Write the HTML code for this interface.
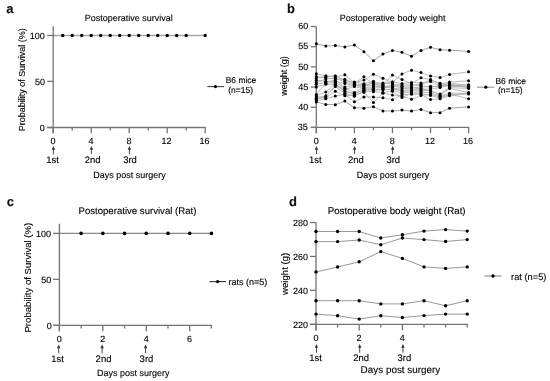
<!DOCTYPE html>
<html><head><meta charset="utf-8"><style>
html,body{margin:0;padding:0;background:#fff;}
body{width:550px;height:381px;overflow:hidden;}
svg{display:block;font-family:"Liberation Sans", sans-serif;filter:blur(0.35px);}
text{stroke:#000;stroke-width:0.12px;}
</style></head><body>
<svg width="550" height="381" viewBox="0 0 550 381">
<rect width="550" height="381" fill="#fff"/>
<line x1="53.20" y1="35.50" x2="205.20" y2="35.50" stroke="#a8a8a8" stroke-width="1.5"/>
<line x1="53.20" y1="26.30" x2="53.20" y2="133.20" stroke="#747474" stroke-width="1.3"/>
<line x1="47.20" y1="127.50" x2="205.80" y2="127.50" stroke="#747474" stroke-width="1.3"/>
<line x1="47.20" y1="35.50" x2="53.20" y2="35.50" stroke="#747474" stroke-width="1.3"/>
<line x1="47.20" y1="81.40" x2="53.20" y2="81.40" stroke="#747474" stroke-width="1.3"/>
<line x1="47.20" y1="127.50" x2="53.20" y2="127.50" stroke="#747474" stroke-width="1.3"/>
<line x1="53.20" y1="127.50" x2="53.20" y2="133.20" stroke="#747474" stroke-width="1.3"/>
<line x1="72.20" y1="127.50" x2="72.20" y2="130.50" stroke="#747474" stroke-width="1.3"/>
<line x1="91.20" y1="127.50" x2="91.20" y2="133.20" stroke="#747474" stroke-width="1.3"/>
<line x1="110.20" y1="127.50" x2="110.20" y2="130.50" stroke="#747474" stroke-width="1.3"/>
<line x1="129.20" y1="127.50" x2="129.20" y2="133.20" stroke="#747474" stroke-width="1.3"/>
<line x1="148.20" y1="127.50" x2="148.20" y2="130.50" stroke="#747474" stroke-width="1.3"/>
<line x1="167.20" y1="127.50" x2="167.20" y2="133.20" stroke="#747474" stroke-width="1.3"/>
<line x1="186.20" y1="127.50" x2="186.20" y2="130.50" stroke="#747474" stroke-width="1.3"/>
<line x1="205.20" y1="127.50" x2="205.20" y2="133.20" stroke="#747474" stroke-width="1.3"/>
<line x1="53.40" y1="147.50" x2="53.40" y2="154.20" stroke="#333" stroke-width="0.9"/>
<path d="M51.70,149.70 L53.40,146.00 L55.10,149.70 Z" fill="#333"/>
<line x1="91.40" y1="147.50" x2="91.40" y2="154.20" stroke="#333" stroke-width="0.9"/>
<path d="M89.70,149.70 L91.40,146.00 L93.10,149.70 Z" fill="#333"/>
<line x1="129.40" y1="147.50" x2="129.40" y2="154.20" stroke="#333" stroke-width="0.9"/>
<path d="M127.70,149.70 L129.40,146.00 L131.10,149.70 Z" fill="#333"/>
<circle cx="62.70" cy="35.50" r="1.7" fill="#000"/>
<circle cx="72.20" cy="35.50" r="1.7" fill="#000"/>
<circle cx="81.70" cy="35.50" r="1.7" fill="#000"/>
<circle cx="91.20" cy="35.50" r="1.7" fill="#000"/>
<circle cx="100.70" cy="35.50" r="1.7" fill="#000"/>
<circle cx="110.20" cy="35.50" r="1.7" fill="#000"/>
<circle cx="119.70" cy="35.50" r="1.7" fill="#000"/>
<circle cx="129.20" cy="35.50" r="1.7" fill="#000"/>
<circle cx="138.70" cy="35.50" r="1.7" fill="#000"/>
<circle cx="148.20" cy="35.50" r="1.7" fill="#000"/>
<circle cx="157.70" cy="35.50" r="1.7" fill="#000"/>
<circle cx="167.20" cy="35.50" r="1.7" fill="#000"/>
<circle cx="176.70" cy="35.50" r="1.7" fill="#000"/>
<circle cx="186.20" cy="35.50" r="1.7" fill="#000"/>
<circle cx="205.20" cy="35.50" r="1.7" fill="#000"/>
<line x1="207.30" y1="86.60" x2="224.10" y2="86.60" stroke="#444" stroke-width="1.1"/>
<circle cx="215.50" cy="86.60" r="1.6" fill="#000"/>
<line x1="316.30" y1="26.50" x2="316.30" y2="133.20" stroke="#747474" stroke-width="1.3"/>
<line x1="310.80" y1="127.40" x2="469.22" y2="127.40" stroke="#747474" stroke-width="1.3"/>
<line x1="310.80" y1="26.50" x2="316.30" y2="26.50" stroke="#747474" stroke-width="1.3"/>
<line x1="310.80" y1="46.68" x2="316.30" y2="46.68" stroke="#747474" stroke-width="1.3"/>
<line x1="310.80" y1="66.86" x2="316.30" y2="66.86" stroke="#747474" stroke-width="1.3"/>
<line x1="310.80" y1="87.04" x2="316.30" y2="87.04" stroke="#747474" stroke-width="1.3"/>
<line x1="310.80" y1="107.22" x2="316.30" y2="107.22" stroke="#747474" stroke-width="1.3"/>
<line x1="310.80" y1="127.40" x2="316.30" y2="127.40" stroke="#747474" stroke-width="1.3"/>
<line x1="316.30" y1="127.40" x2="316.30" y2="133.20" stroke="#747474" stroke-width="1.3"/>
<line x1="335.34" y1="127.40" x2="335.34" y2="130.30" stroke="#747474" stroke-width="1.3"/>
<line x1="354.38" y1="127.40" x2="354.38" y2="133.20" stroke="#747474" stroke-width="1.3"/>
<line x1="373.42" y1="127.40" x2="373.42" y2="130.30" stroke="#747474" stroke-width="1.3"/>
<line x1="392.46" y1="127.40" x2="392.46" y2="133.20" stroke="#747474" stroke-width="1.3"/>
<line x1="411.50" y1="127.40" x2="411.50" y2="130.30" stroke="#747474" stroke-width="1.3"/>
<line x1="430.54" y1="127.40" x2="430.54" y2="133.20" stroke="#747474" stroke-width="1.3"/>
<line x1="449.58" y1="127.40" x2="449.58" y2="130.30" stroke="#747474" stroke-width="1.3"/>
<line x1="468.62" y1="127.40" x2="468.62" y2="133.20" stroke="#747474" stroke-width="1.3"/>
<line x1="316.50" y1="147.50" x2="316.50" y2="154.00" stroke="#333" stroke-width="0.9"/>
<path d="M314.80,149.70 L316.50,146.00 L318.20,149.70 Z" fill="#333"/>
<line x1="354.58" y1="147.50" x2="354.58" y2="154.00" stroke="#333" stroke-width="0.9"/>
<path d="M352.88,149.70 L354.58,146.00 L356.28,149.70 Z" fill="#333"/>
<line x1="392.66" y1="147.50" x2="392.66" y2="154.00" stroke="#333" stroke-width="0.9"/>
<path d="M390.96,149.70 L392.66,146.00 L394.36,149.70 Z" fill="#333"/>
<line x1="477.10" y1="87.20" x2="494.50" y2="87.20" stroke="#888" stroke-width="1.0"/>
<circle cx="485.80" cy="87.20" r="1.6" fill="#000"/>
<polyline points="316.30,43.70 325.82,46.00 335.34,45.60 344.86,46.90 354.38,45.00 363.90,51.70 373.42,60.70 382.94,54.10 392.46,50.50 401.98,52.30 411.50,56.30 421.02,50.50 430.54,47.30 440.06,49.70 449.58,50.20 468.62,51.40" fill="none" stroke="#999" stroke-width="0.9" stroke-linejoin="round"/>
<polyline points="316.30,73.80 325.82,75.80 335.34,76.88 344.86,74.80 354.38,82.73 363.90,80.10 373.42,74.20 382.94,78.20 392.46,82.84 401.98,73.90 411.50,70.20 421.02,72.60 430.54,76.10 440.06,77.60 449.58,74.40 468.62,71.80" fill="none" stroke="#aaa" stroke-width="0.8" stroke-linejoin="round"/>
<polyline points="316.30,78.30 325.82,76.80 335.34,75.80 344.86,80.63 354.38,82.00 363.90,83.70 373.42,81.20 382.94,84.75 392.46,75.10 401.98,79.60 411.50,83.59 421.02,77.80 430.54,79.50 440.06,84.08 449.58,82.10 468.62,80.70" fill="none" stroke="#aaa" stroke-width="0.8" stroke-linejoin="round"/>
<polyline points="316.30,76.50 325.82,77.80 335.34,79.04 344.86,79.20 354.38,83.47 363.90,76.70 373.42,84.70 382.94,83.88 392.46,81.80 401.98,83.60 411.50,82.40 421.02,83.10 430.54,80.45 440.06,83.20 449.58,85.76 468.62,84.70" fill="none" stroke="#aaa" stroke-width="0.8" stroke-linejoin="round"/>
<polyline points="316.30,82.60 325.82,79.00 335.34,77.96 344.86,82.07 354.38,84.20 363.90,84.64 373.42,83.53 382.94,83.00 392.46,83.89 401.98,84.98 411.50,84.78 421.02,84.35 430.54,81.40 440.06,85.84 449.58,83.01 468.62,85.46" fill="none" stroke="#aaa" stroke-width="0.8" stroke-linejoin="round"/>
<polyline points="316.30,80.20 325.82,81.30 335.34,81.20 344.86,83.50 354.38,85.67 363.90,86.53 373.42,82.37 382.94,88.25 392.46,84.93 401.98,86.36 411.50,85.97 421.02,85.60 430.54,87.63 440.06,84.96 449.58,86.67 468.62,86.22" fill="none" stroke="#aaa" stroke-width="0.8" stroke-linejoin="round"/>
<polyline points="316.30,84.30 325.82,82.40 335.34,80.12 344.86,87.00 354.38,84.93 363.90,85.59 373.42,85.87 382.94,86.50 392.46,85.98 401.98,87.74 411.50,88.35 421.02,86.85 430.54,86.30 440.06,86.72 449.58,83.93 468.62,86.98" fill="none" stroke="#aaa" stroke-width="0.8" stroke-linejoin="round"/>
<polyline points="316.30,94.40 325.82,83.30 335.34,82.28 344.86,88.24 354.38,92.40 363.90,87.48 373.42,87.03 382.94,85.62 392.46,88.07 401.98,89.12 411.50,87.16 421.02,89.35 430.54,88.96 440.06,87.60 449.58,84.84 468.62,87.74" fill="none" stroke="#aaa" stroke-width="0.8" stroke-linejoin="round"/>
<polyline points="316.30,86.90 325.82,84.20 335.34,84.44 344.86,89.49 354.38,86.40 363.90,88.42 373.42,88.20 382.94,87.38 392.46,87.02 401.98,91.88 411.50,90.73 421.02,88.10 430.54,91.61 440.06,94.00 449.58,87.59 468.62,88.50" fill="none" stroke="#aaa" stroke-width="0.8" stroke-linejoin="round"/>
<polyline points="316.30,95.65 325.82,92.10 335.34,83.36 344.86,91.97 354.38,93.35 363.90,90.31 373.42,89.37 382.94,90.00 392.46,89.11 401.98,90.50 411.50,89.54 421.02,90.60 430.54,90.29 440.06,94.94 449.58,88.50 468.62,92.50" fill="none" stroke="#aaa" stroke-width="0.8" stroke-linejoin="round"/>
<polyline points="316.30,96.90 325.82,96.80 335.34,85.52 344.86,90.73 354.38,94.30 363.90,89.37 373.42,90.53 382.94,89.12 392.46,90.16 401.98,93.26 411.50,91.92 421.02,91.85 430.54,92.94 440.06,95.88 449.58,93.20 468.62,93.43" fill="none" stroke="#aaa" stroke-width="0.8" stroke-linejoin="round"/>
<polyline points="316.30,99.40 325.82,95.80 335.34,86.60 344.86,93.21 354.38,96.20 363.90,91.26 373.42,91.70 382.94,92.40 392.46,91.20 401.98,97.40 411.50,93.11 421.02,93.10 430.54,95.60 440.06,97.76 449.58,94.93 468.62,92.97" fill="none" stroke="#aaa" stroke-width="0.8" stroke-linejoin="round"/>
<polyline points="316.30,98.15 325.82,97.80 335.34,91.30 344.86,95.70 354.38,95.25 363.90,92.20 373.42,102.50 382.94,93.20 392.46,95.00 401.98,96.02 411.50,99.30 421.02,95.60 430.54,94.27 440.06,96.82 449.58,94.07 468.62,98.80" fill="none" stroke="#aaa" stroke-width="0.8" stroke-linejoin="round"/>
<polyline points="316.30,100.65 325.82,98.80 335.34,96.10 344.86,94.46 354.38,101.80 363.90,96.90 373.42,96.90 382.94,97.80 392.46,99.80 401.98,94.64 411.50,94.30 421.02,94.35 430.54,99.40 440.06,98.70 449.58,95.80 468.62,93.90" fill="none" stroke="#aaa" stroke-width="0.8" stroke-linejoin="round"/>
<polyline points="316.30,101.90 325.82,104.40 335.34,104.70 344.86,101.10 354.38,107.70 363.90,108.20 373.42,106.70 382.94,111.00 392.46,111.10 401.98,110.10 411.50,111.10 421.02,109.40 430.54,112.70 440.06,112.70 449.58,108.20 468.62,106.90" fill="none" stroke="#999" stroke-width="0.9" stroke-linejoin="round"/>
<circle cx="316.30" cy="43.70" r="1.5" fill="#000"/>
<circle cx="325.82" cy="46.00" r="1.5" fill="#000"/>
<circle cx="335.34" cy="45.60" r="1.5" fill="#000"/>
<circle cx="344.86" cy="46.90" r="1.5" fill="#000"/>
<circle cx="354.38" cy="45.00" r="1.5" fill="#000"/>
<circle cx="363.90" cy="51.70" r="1.5" fill="#000"/>
<circle cx="373.42" cy="60.70" r="1.5" fill="#000"/>
<circle cx="382.94" cy="54.10" r="1.5" fill="#000"/>
<circle cx="392.46" cy="50.50" r="1.5" fill="#000"/>
<circle cx="401.98" cy="52.30" r="1.5" fill="#000"/>
<circle cx="411.50" cy="56.30" r="1.5" fill="#000"/>
<circle cx="421.02" cy="50.50" r="1.5" fill="#000"/>
<circle cx="430.54" cy="47.30" r="1.5" fill="#000"/>
<circle cx="440.06" cy="49.70" r="1.5" fill="#000"/>
<circle cx="449.58" cy="50.20" r="1.5" fill="#000"/>
<circle cx="468.62" cy="51.40" r="1.5" fill="#000"/>
<circle cx="316.30" cy="73.80" r="1.5" fill="#000"/>
<circle cx="325.82" cy="75.80" r="1.5" fill="#000"/>
<circle cx="335.34" cy="76.88" r="1.5" fill="#000"/>
<circle cx="344.86" cy="74.80" r="1.5" fill="#000"/>
<circle cx="354.38" cy="82.73" r="1.5" fill="#000"/>
<circle cx="363.90" cy="80.10" r="1.5" fill="#000"/>
<circle cx="373.42" cy="74.20" r="1.5" fill="#000"/>
<circle cx="382.94" cy="78.20" r="1.5" fill="#000"/>
<circle cx="392.46" cy="82.84" r="1.5" fill="#000"/>
<circle cx="401.98" cy="73.90" r="1.5" fill="#000"/>
<circle cx="411.50" cy="70.20" r="1.5" fill="#000"/>
<circle cx="421.02" cy="72.60" r="1.5" fill="#000"/>
<circle cx="430.54" cy="76.10" r="1.5" fill="#000"/>
<circle cx="440.06" cy="77.60" r="1.5" fill="#000"/>
<circle cx="449.58" cy="74.40" r="1.5" fill="#000"/>
<circle cx="468.62" cy="71.80" r="1.5" fill="#000"/>
<circle cx="316.30" cy="78.30" r="1.5" fill="#000"/>
<circle cx="325.82" cy="76.80" r="1.5" fill="#000"/>
<circle cx="335.34" cy="75.80" r="1.5" fill="#000"/>
<circle cx="344.86" cy="80.63" r="1.5" fill="#000"/>
<circle cx="354.38" cy="82.00" r="1.5" fill="#000"/>
<circle cx="363.90" cy="83.70" r="1.5" fill="#000"/>
<circle cx="373.42" cy="81.20" r="1.5" fill="#000"/>
<circle cx="382.94" cy="84.75" r="1.5" fill="#000"/>
<circle cx="392.46" cy="75.10" r="1.5" fill="#000"/>
<circle cx="401.98" cy="79.60" r="1.5" fill="#000"/>
<circle cx="411.50" cy="83.59" r="1.5" fill="#000"/>
<circle cx="421.02" cy="77.80" r="1.5" fill="#000"/>
<circle cx="430.54" cy="79.50" r="1.5" fill="#000"/>
<circle cx="440.06" cy="84.08" r="1.5" fill="#000"/>
<circle cx="449.58" cy="82.10" r="1.5" fill="#000"/>
<circle cx="468.62" cy="80.70" r="1.5" fill="#000"/>
<circle cx="316.30" cy="76.50" r="1.5" fill="#000"/>
<circle cx="325.82" cy="77.80" r="1.5" fill="#000"/>
<circle cx="335.34" cy="79.04" r="1.5" fill="#000"/>
<circle cx="344.86" cy="79.20" r="1.5" fill="#000"/>
<circle cx="354.38" cy="83.47" r="1.5" fill="#000"/>
<circle cx="363.90" cy="76.70" r="1.5" fill="#000"/>
<circle cx="373.42" cy="84.70" r="1.5" fill="#000"/>
<circle cx="382.94" cy="83.88" r="1.5" fill="#000"/>
<circle cx="392.46" cy="81.80" r="1.5" fill="#000"/>
<circle cx="401.98" cy="83.60" r="1.5" fill="#000"/>
<circle cx="411.50" cy="82.40" r="1.5" fill="#000"/>
<circle cx="421.02" cy="83.10" r="1.5" fill="#000"/>
<circle cx="430.54" cy="80.45" r="1.5" fill="#000"/>
<circle cx="440.06" cy="83.20" r="1.5" fill="#000"/>
<circle cx="449.58" cy="85.76" r="1.5" fill="#000"/>
<circle cx="468.62" cy="84.70" r="1.5" fill="#000"/>
<circle cx="316.30" cy="82.60" r="1.5" fill="#000"/>
<circle cx="325.82" cy="79.00" r="1.5" fill="#000"/>
<circle cx="335.34" cy="77.96" r="1.5" fill="#000"/>
<circle cx="344.86" cy="82.07" r="1.5" fill="#000"/>
<circle cx="354.38" cy="84.20" r="1.5" fill="#000"/>
<circle cx="363.90" cy="84.64" r="1.5" fill="#000"/>
<circle cx="373.42" cy="83.53" r="1.5" fill="#000"/>
<circle cx="382.94" cy="83.00" r="1.5" fill="#000"/>
<circle cx="392.46" cy="83.89" r="1.5" fill="#000"/>
<circle cx="401.98" cy="84.98" r="1.5" fill="#000"/>
<circle cx="411.50" cy="84.78" r="1.5" fill="#000"/>
<circle cx="421.02" cy="84.35" r="1.5" fill="#000"/>
<circle cx="430.54" cy="81.40" r="1.5" fill="#000"/>
<circle cx="440.06" cy="85.84" r="1.5" fill="#000"/>
<circle cx="449.58" cy="83.01" r="1.5" fill="#000"/>
<circle cx="468.62" cy="85.46" r="1.5" fill="#000"/>
<circle cx="316.30" cy="80.20" r="1.5" fill="#000"/>
<circle cx="325.82" cy="81.30" r="1.5" fill="#000"/>
<circle cx="335.34" cy="81.20" r="1.5" fill="#000"/>
<circle cx="344.86" cy="83.50" r="1.5" fill="#000"/>
<circle cx="354.38" cy="85.67" r="1.5" fill="#000"/>
<circle cx="363.90" cy="86.53" r="1.5" fill="#000"/>
<circle cx="373.42" cy="82.37" r="1.5" fill="#000"/>
<circle cx="382.94" cy="88.25" r="1.5" fill="#000"/>
<circle cx="392.46" cy="84.93" r="1.5" fill="#000"/>
<circle cx="401.98" cy="86.36" r="1.5" fill="#000"/>
<circle cx="411.50" cy="85.97" r="1.5" fill="#000"/>
<circle cx="421.02" cy="85.60" r="1.5" fill="#000"/>
<circle cx="430.54" cy="87.63" r="1.5" fill="#000"/>
<circle cx="440.06" cy="84.96" r="1.5" fill="#000"/>
<circle cx="449.58" cy="86.67" r="1.5" fill="#000"/>
<circle cx="468.62" cy="86.22" r="1.5" fill="#000"/>
<circle cx="316.30" cy="84.30" r="1.5" fill="#000"/>
<circle cx="325.82" cy="82.40" r="1.5" fill="#000"/>
<circle cx="335.34" cy="80.12" r="1.5" fill="#000"/>
<circle cx="344.86" cy="87.00" r="1.5" fill="#000"/>
<circle cx="354.38" cy="84.93" r="1.5" fill="#000"/>
<circle cx="363.90" cy="85.59" r="1.5" fill="#000"/>
<circle cx="373.42" cy="85.87" r="1.5" fill="#000"/>
<circle cx="382.94" cy="86.50" r="1.5" fill="#000"/>
<circle cx="392.46" cy="85.98" r="1.5" fill="#000"/>
<circle cx="401.98" cy="87.74" r="1.5" fill="#000"/>
<circle cx="411.50" cy="88.35" r="1.5" fill="#000"/>
<circle cx="421.02" cy="86.85" r="1.5" fill="#000"/>
<circle cx="430.54" cy="86.30" r="1.5" fill="#000"/>
<circle cx="440.06" cy="86.72" r="1.5" fill="#000"/>
<circle cx="449.58" cy="83.93" r="1.5" fill="#000"/>
<circle cx="468.62" cy="86.98" r="1.5" fill="#000"/>
<circle cx="316.30" cy="94.40" r="1.5" fill="#000"/>
<circle cx="325.82" cy="83.30" r="1.5" fill="#000"/>
<circle cx="335.34" cy="82.28" r="1.5" fill="#000"/>
<circle cx="344.86" cy="88.24" r="1.5" fill="#000"/>
<circle cx="354.38" cy="92.40" r="1.5" fill="#000"/>
<circle cx="363.90" cy="87.48" r="1.5" fill="#000"/>
<circle cx="373.42" cy="87.03" r="1.5" fill="#000"/>
<circle cx="382.94" cy="85.62" r="1.5" fill="#000"/>
<circle cx="392.46" cy="88.07" r="1.5" fill="#000"/>
<circle cx="401.98" cy="89.12" r="1.5" fill="#000"/>
<circle cx="411.50" cy="87.16" r="1.5" fill="#000"/>
<circle cx="421.02" cy="89.35" r="1.5" fill="#000"/>
<circle cx="430.54" cy="88.96" r="1.5" fill="#000"/>
<circle cx="440.06" cy="87.60" r="1.5" fill="#000"/>
<circle cx="449.58" cy="84.84" r="1.5" fill="#000"/>
<circle cx="468.62" cy="87.74" r="1.5" fill="#000"/>
<circle cx="316.30" cy="86.90" r="1.5" fill="#000"/>
<circle cx="325.82" cy="84.20" r="1.5" fill="#000"/>
<circle cx="335.34" cy="84.44" r="1.5" fill="#000"/>
<circle cx="344.86" cy="89.49" r="1.5" fill="#000"/>
<circle cx="354.38" cy="86.40" r="1.5" fill="#000"/>
<circle cx="363.90" cy="88.42" r="1.5" fill="#000"/>
<circle cx="373.42" cy="88.20" r="1.5" fill="#000"/>
<circle cx="382.94" cy="87.38" r="1.5" fill="#000"/>
<circle cx="392.46" cy="87.02" r="1.5" fill="#000"/>
<circle cx="401.98" cy="91.88" r="1.5" fill="#000"/>
<circle cx="411.50" cy="90.73" r="1.5" fill="#000"/>
<circle cx="421.02" cy="88.10" r="1.5" fill="#000"/>
<circle cx="430.54" cy="91.61" r="1.5" fill="#000"/>
<circle cx="440.06" cy="94.00" r="1.5" fill="#000"/>
<circle cx="449.58" cy="87.59" r="1.5" fill="#000"/>
<circle cx="468.62" cy="88.50" r="1.5" fill="#000"/>
<circle cx="316.30" cy="95.65" r="1.5" fill="#000"/>
<circle cx="325.82" cy="92.10" r="1.5" fill="#000"/>
<circle cx="335.34" cy="83.36" r="1.5" fill="#000"/>
<circle cx="344.86" cy="91.97" r="1.5" fill="#000"/>
<circle cx="354.38" cy="93.35" r="1.5" fill="#000"/>
<circle cx="363.90" cy="90.31" r="1.5" fill="#000"/>
<circle cx="373.42" cy="89.37" r="1.5" fill="#000"/>
<circle cx="382.94" cy="90.00" r="1.5" fill="#000"/>
<circle cx="392.46" cy="89.11" r="1.5" fill="#000"/>
<circle cx="401.98" cy="90.50" r="1.5" fill="#000"/>
<circle cx="411.50" cy="89.54" r="1.5" fill="#000"/>
<circle cx="421.02" cy="90.60" r="1.5" fill="#000"/>
<circle cx="430.54" cy="90.29" r="1.5" fill="#000"/>
<circle cx="440.06" cy="94.94" r="1.5" fill="#000"/>
<circle cx="449.58" cy="88.50" r="1.5" fill="#000"/>
<circle cx="468.62" cy="92.50" r="1.5" fill="#000"/>
<circle cx="316.30" cy="96.90" r="1.5" fill="#000"/>
<circle cx="325.82" cy="96.80" r="1.5" fill="#000"/>
<circle cx="335.34" cy="85.52" r="1.5" fill="#000"/>
<circle cx="344.86" cy="90.73" r="1.5" fill="#000"/>
<circle cx="354.38" cy="94.30" r="1.5" fill="#000"/>
<circle cx="363.90" cy="89.37" r="1.5" fill="#000"/>
<circle cx="373.42" cy="90.53" r="1.5" fill="#000"/>
<circle cx="382.94" cy="89.12" r="1.5" fill="#000"/>
<circle cx="392.46" cy="90.16" r="1.5" fill="#000"/>
<circle cx="401.98" cy="93.26" r="1.5" fill="#000"/>
<circle cx="411.50" cy="91.92" r="1.5" fill="#000"/>
<circle cx="421.02" cy="91.85" r="1.5" fill="#000"/>
<circle cx="430.54" cy="92.94" r="1.5" fill="#000"/>
<circle cx="440.06" cy="95.88" r="1.5" fill="#000"/>
<circle cx="449.58" cy="93.20" r="1.5" fill="#000"/>
<circle cx="468.62" cy="93.43" r="1.5" fill="#000"/>
<circle cx="316.30" cy="99.40" r="1.5" fill="#000"/>
<circle cx="325.82" cy="95.80" r="1.5" fill="#000"/>
<circle cx="335.34" cy="86.60" r="1.5" fill="#000"/>
<circle cx="344.86" cy="93.21" r="1.5" fill="#000"/>
<circle cx="354.38" cy="96.20" r="1.5" fill="#000"/>
<circle cx="363.90" cy="91.26" r="1.5" fill="#000"/>
<circle cx="373.42" cy="91.70" r="1.5" fill="#000"/>
<circle cx="382.94" cy="92.40" r="1.5" fill="#000"/>
<circle cx="392.46" cy="91.20" r="1.5" fill="#000"/>
<circle cx="401.98" cy="97.40" r="1.5" fill="#000"/>
<circle cx="411.50" cy="93.11" r="1.5" fill="#000"/>
<circle cx="421.02" cy="93.10" r="1.5" fill="#000"/>
<circle cx="430.54" cy="95.60" r="1.5" fill="#000"/>
<circle cx="440.06" cy="97.76" r="1.5" fill="#000"/>
<circle cx="449.58" cy="94.93" r="1.5" fill="#000"/>
<circle cx="468.62" cy="92.97" r="1.5" fill="#000"/>
<circle cx="316.30" cy="98.15" r="1.5" fill="#000"/>
<circle cx="325.82" cy="97.80" r="1.5" fill="#000"/>
<circle cx="335.34" cy="91.30" r="1.5" fill="#000"/>
<circle cx="344.86" cy="95.70" r="1.5" fill="#000"/>
<circle cx="354.38" cy="95.25" r="1.5" fill="#000"/>
<circle cx="363.90" cy="92.20" r="1.5" fill="#000"/>
<circle cx="373.42" cy="102.50" r="1.5" fill="#000"/>
<circle cx="382.94" cy="93.20" r="1.5" fill="#000"/>
<circle cx="392.46" cy="95.00" r="1.5" fill="#000"/>
<circle cx="401.98" cy="96.02" r="1.5" fill="#000"/>
<circle cx="411.50" cy="99.30" r="1.5" fill="#000"/>
<circle cx="421.02" cy="95.60" r="1.5" fill="#000"/>
<circle cx="430.54" cy="94.27" r="1.5" fill="#000"/>
<circle cx="440.06" cy="96.82" r="1.5" fill="#000"/>
<circle cx="449.58" cy="94.07" r="1.5" fill="#000"/>
<circle cx="468.62" cy="98.80" r="1.5" fill="#000"/>
<circle cx="316.30" cy="100.65" r="1.5" fill="#000"/>
<circle cx="325.82" cy="98.80" r="1.5" fill="#000"/>
<circle cx="335.34" cy="96.10" r="1.5" fill="#000"/>
<circle cx="344.86" cy="94.46" r="1.5" fill="#000"/>
<circle cx="354.38" cy="101.80" r="1.5" fill="#000"/>
<circle cx="363.90" cy="96.90" r="1.5" fill="#000"/>
<circle cx="373.42" cy="96.90" r="1.5" fill="#000"/>
<circle cx="382.94" cy="97.80" r="1.5" fill="#000"/>
<circle cx="392.46" cy="99.80" r="1.5" fill="#000"/>
<circle cx="401.98" cy="94.64" r="1.5" fill="#000"/>
<circle cx="411.50" cy="94.30" r="1.5" fill="#000"/>
<circle cx="421.02" cy="94.35" r="1.5" fill="#000"/>
<circle cx="430.54" cy="99.40" r="1.5" fill="#000"/>
<circle cx="440.06" cy="98.70" r="1.5" fill="#000"/>
<circle cx="449.58" cy="95.80" r="1.5" fill="#000"/>
<circle cx="468.62" cy="93.90" r="1.5" fill="#000"/>
<circle cx="316.30" cy="101.90" r="1.5" fill="#000"/>
<circle cx="325.82" cy="104.40" r="1.5" fill="#000"/>
<circle cx="335.34" cy="104.70" r="1.5" fill="#000"/>
<circle cx="344.86" cy="101.10" r="1.5" fill="#000"/>
<circle cx="354.38" cy="107.70" r="1.5" fill="#000"/>
<circle cx="363.90" cy="108.20" r="1.5" fill="#000"/>
<circle cx="373.42" cy="106.70" r="1.5" fill="#000"/>
<circle cx="382.94" cy="111.00" r="1.5" fill="#000"/>
<circle cx="392.46" cy="111.10" r="1.5" fill="#000"/>
<circle cx="401.98" cy="110.10" r="1.5" fill="#000"/>
<circle cx="411.50" cy="111.10" r="1.5" fill="#000"/>
<circle cx="421.02" cy="109.40" r="1.5" fill="#000"/>
<circle cx="430.54" cy="112.70" r="1.5" fill="#000"/>
<circle cx="440.06" cy="112.70" r="1.5" fill="#000"/>
<circle cx="449.58" cy="108.20" r="1.5" fill="#000"/>
<circle cx="468.62" cy="106.90" r="1.5" fill="#000"/>
<line x1="59.40" y1="233.40" x2="211.44" y2="233.40" stroke="#888" stroke-width="1.3"/>
<line x1="59.40" y1="223.70" x2="59.40" y2="331.20" stroke="#747474" stroke-width="1.3"/>
<line x1="53.00" y1="325.30" x2="212.04" y2="325.30" stroke="#747474" stroke-width="1.3"/>
<line x1="53.00" y1="233.40" x2="59.40" y2="233.40" stroke="#747474" stroke-width="1.3"/>
<line x1="53.00" y1="279.30" x2="59.40" y2="279.30" stroke="#747474" stroke-width="1.3"/>
<line x1="53.00" y1="325.30" x2="59.40" y2="325.30" stroke="#747474" stroke-width="1.3"/>
<line x1="59.40" y1="325.30" x2="59.40" y2="331.20" stroke="#747474" stroke-width="1.3"/>
<line x1="81.12" y1="325.30" x2="81.12" y2="328.50" stroke="#747474" stroke-width="1.3"/>
<line x1="102.84" y1="325.30" x2="102.84" y2="331.20" stroke="#747474" stroke-width="1.3"/>
<line x1="124.56" y1="325.30" x2="124.56" y2="328.50" stroke="#747474" stroke-width="1.3"/>
<line x1="146.28" y1="325.30" x2="146.28" y2="331.20" stroke="#747474" stroke-width="1.3"/>
<line x1="168.00" y1="325.30" x2="168.00" y2="328.50" stroke="#747474" stroke-width="1.3"/>
<line x1="189.72" y1="325.30" x2="189.72" y2="331.20" stroke="#747474" stroke-width="1.3"/>
<line x1="211.44" y1="325.30" x2="211.44" y2="328.50" stroke="#747474" stroke-width="1.3"/>
<line x1="58.70" y1="346.00" x2="58.70" y2="353.30" stroke="#333" stroke-width="0.9"/>
<path d="M57.00,348.20 L58.70,344.50 L60.40,348.20 Z" fill="#333"/>
<line x1="102.14" y1="346.00" x2="102.14" y2="353.30" stroke="#333" stroke-width="0.9"/>
<path d="M100.44,348.20 L102.14,344.50 L103.84,348.20 Z" fill="#333"/>
<line x1="145.58" y1="346.00" x2="145.58" y2="353.30" stroke="#333" stroke-width="0.9"/>
<path d="M143.88,348.20 L145.58,344.50 L147.28,348.20 Z" fill="#333"/>
<circle cx="81.12" cy="233.40" r="1.8" fill="#000"/>
<circle cx="102.84" cy="233.40" r="1.8" fill="#000"/>
<circle cx="124.56" cy="233.40" r="1.8" fill="#000"/>
<circle cx="146.28" cy="233.40" r="1.8" fill="#000"/>
<circle cx="168.00" cy="233.40" r="1.8" fill="#000"/>
<circle cx="189.72" cy="233.40" r="1.8" fill="#000"/>
<circle cx="211.44" cy="233.40" r="1.8" fill="#000"/>
<line x1="209.50" y1="281.60" x2="225.90" y2="281.60" stroke="#333" stroke-width="1.1"/>
<circle cx="217.60" cy="281.60" r="1.6" fill="#000"/>
<line x1="316.00" y1="222.50" x2="316.00" y2="330.50" stroke="#747474" stroke-width="1.3"/>
<line x1="310.00" y1="324.32" x2="467.80" y2="324.32" stroke="#747474" stroke-width="1.3"/>
<line x1="310.00" y1="222.50" x2="316.00" y2="222.50" stroke="#747474" stroke-width="1.3"/>
<line x1="310.00" y1="256.44" x2="316.00" y2="256.44" stroke="#747474" stroke-width="1.3"/>
<line x1="310.00" y1="290.38" x2="316.00" y2="290.38" stroke="#747474" stroke-width="1.3"/>
<line x1="310.00" y1="324.32" x2="316.00" y2="324.32" stroke="#747474" stroke-width="1.3"/>
<line x1="316.00" y1="324.32" x2="316.00" y2="330.50" stroke="#747474" stroke-width="1.3"/>
<line x1="337.60" y1="324.32" x2="337.60" y2="327.50" stroke="#747474" stroke-width="1.3"/>
<line x1="359.20" y1="324.32" x2="359.20" y2="330.50" stroke="#747474" stroke-width="1.3"/>
<line x1="380.80" y1="324.32" x2="380.80" y2="327.50" stroke="#747474" stroke-width="1.3"/>
<line x1="402.40" y1="324.32" x2="402.40" y2="330.50" stroke="#747474" stroke-width="1.3"/>
<line x1="424.00" y1="324.32" x2="424.00" y2="327.50" stroke="#747474" stroke-width="1.3"/>
<line x1="445.60" y1="324.32" x2="445.60" y2="327.50" stroke="#747474" stroke-width="1.3"/>
<line x1="467.20" y1="324.32" x2="467.20" y2="327.50" stroke="#747474" stroke-width="1.3"/>
<line x1="316.50" y1="345.50" x2="316.50" y2="352.80" stroke="#333" stroke-width="0.9"/>
<path d="M314.80,347.70 L316.50,344.00 L318.20,347.70 Z" fill="#333"/>
<line x1="359.70" y1="345.50" x2="359.70" y2="352.80" stroke="#333" stroke-width="0.9"/>
<path d="M358.00,347.70 L359.70,344.00 L361.40,347.70 Z" fill="#333"/>
<line x1="402.90" y1="345.50" x2="402.90" y2="352.80" stroke="#333" stroke-width="0.9"/>
<path d="M401.20,347.70 L402.90,344.00 L404.60,347.70 Z" fill="#333"/>
<polyline points="316.00,231.50 337.60,231.50 359.20,231.50 380.80,238.00 402.40,234.70 424.00,231.10 445.60,229.60 467.20,231.10" fill="none" stroke="#999" stroke-width="1.0" stroke-linejoin="round"/>
<polyline points="316.00,241.60 337.60,241.60 359.20,240.00 380.80,244.80 402.40,238.00 424.00,239.60 445.60,241.50 467.20,239.60" fill="none" stroke="#999" stroke-width="1.0" stroke-linejoin="round"/>
<polyline points="316.00,271.90 337.60,267.00 359.20,261.80 380.80,251.60 402.40,258.40 424.00,266.90 445.60,268.40 467.20,266.90" fill="none" stroke="#999" stroke-width="1.0" stroke-linejoin="round"/>
<polyline points="316.00,300.70 337.60,300.70 359.20,300.70 380.80,303.90 402.40,303.90 424.00,300.70 445.60,305.80 467.20,300.70" fill="none" stroke="#999" stroke-width="1.0" stroke-linejoin="round"/>
<polyline points="316.00,314.10 337.60,315.70 359.20,319.10 380.80,315.70 402.40,317.50 424.00,315.60 445.60,314.10 467.20,314.10" fill="none" stroke="#999" stroke-width="1.0" stroke-linejoin="round"/>
<circle cx="316.00" cy="231.50" r="1.7" fill="#000"/>
<circle cx="337.60" cy="231.50" r="1.7" fill="#000"/>
<circle cx="359.20" cy="231.50" r="1.7" fill="#000"/>
<circle cx="380.80" cy="238.00" r="1.7" fill="#000"/>
<circle cx="402.40" cy="234.70" r="1.7" fill="#000"/>
<circle cx="424.00" cy="231.10" r="1.7" fill="#000"/>
<circle cx="445.60" cy="229.60" r="1.7" fill="#000"/>
<circle cx="467.20" cy="231.10" r="1.7" fill="#000"/>
<circle cx="316.00" cy="241.60" r="1.7" fill="#000"/>
<circle cx="337.60" cy="241.60" r="1.7" fill="#000"/>
<circle cx="359.20" cy="240.00" r="1.7" fill="#000"/>
<circle cx="380.80" cy="244.80" r="1.7" fill="#000"/>
<circle cx="402.40" cy="238.00" r="1.7" fill="#000"/>
<circle cx="424.00" cy="239.60" r="1.7" fill="#000"/>
<circle cx="445.60" cy="241.50" r="1.7" fill="#000"/>
<circle cx="467.20" cy="239.60" r="1.7" fill="#000"/>
<circle cx="316.00" cy="271.90" r="1.7" fill="#000"/>
<circle cx="337.60" cy="267.00" r="1.7" fill="#000"/>
<circle cx="359.20" cy="261.80" r="1.7" fill="#000"/>
<circle cx="380.80" cy="251.60" r="1.7" fill="#000"/>
<circle cx="402.40" cy="258.40" r="1.7" fill="#000"/>
<circle cx="424.00" cy="266.90" r="1.7" fill="#000"/>
<circle cx="445.60" cy="268.40" r="1.7" fill="#000"/>
<circle cx="467.20" cy="266.90" r="1.7" fill="#000"/>
<circle cx="316.00" cy="300.70" r="1.7" fill="#000"/>
<circle cx="337.60" cy="300.70" r="1.7" fill="#000"/>
<circle cx="359.20" cy="300.70" r="1.7" fill="#000"/>
<circle cx="380.80" cy="303.90" r="1.7" fill="#000"/>
<circle cx="402.40" cy="303.90" r="1.7" fill="#000"/>
<circle cx="424.00" cy="300.70" r="1.7" fill="#000"/>
<circle cx="445.60" cy="305.80" r="1.7" fill="#000"/>
<circle cx="467.20" cy="300.70" r="1.7" fill="#000"/>
<circle cx="316.00" cy="314.10" r="1.7" fill="#000"/>
<circle cx="337.60" cy="315.70" r="1.7" fill="#000"/>
<circle cx="359.20" cy="319.10" r="1.7" fill="#000"/>
<circle cx="380.80" cy="315.70" r="1.7" fill="#000"/>
<circle cx="402.40" cy="317.50" r="1.7" fill="#000"/>
<circle cx="424.00" cy="315.60" r="1.7" fill="#000"/>
<circle cx="445.60" cy="314.10" r="1.7" fill="#000"/>
<circle cx="467.20" cy="314.10" r="1.7" fill="#000"/>
<line x1="484.50" y1="276.00" x2="501.50" y2="276.00" stroke="#888" stroke-width="1.1"/>
<circle cx="493.00" cy="276.00" r="1.7" fill="#000"/>
<text x="6.15" y="13" font-size="13" font-weight="bold" fill="#111" transform="translate(6.15,13) skewX(0.1) translate(-6.15,-13)">a</text>
<text x="84.75" y="21" font-size="9" font-weight="normal" fill="#000" transform="translate(84.75,21) skewX(0.1) translate(-84.75,-21)">Postoperative survival</text>
<text x="29.70" y="39" font-size="9" font-weight="normal" fill="#000" transform="translate(29.70,39) skewX(0.1) translate(-29.70,-39)">100</text>
<text x="35.05" y="85" font-size="9" font-weight="normal" fill="#000" transform="translate(35.05,85) skewX(0.1) translate(-35.05,-85)">50</text>
<text x="39.80" y="131" font-size="9" font-weight="normal" fill="#000" transform="translate(39.80,131) skewX(0.1) translate(-39.80,-131)">0</text>
<text x="50.60" y="144" font-size="9" font-weight="normal" fill="#000" transform="translate(50.60,144) skewX(0.1) translate(-50.60,-144)">0</text>
<text x="88.60" y="144" font-size="9" font-weight="normal" fill="#000" transform="translate(88.60,144) skewX(0.1) translate(-88.60,-144)">4</text>
<text x="126.60" y="144" font-size="9" font-weight="normal" fill="#000" transform="translate(126.60,144) skewX(0.1) translate(-126.60,-144)">8</text>
<text x="161.60" y="144" font-size="9" font-weight="normal" fill="#000" transform="translate(161.60,144) skewX(0.1) translate(-161.60,-144)">12</text>
<text x="199.60" y="144" font-size="9" font-weight="normal" fill="#000" transform="translate(199.60,144) skewX(0.1) translate(-199.60,-144)">16</text>
<text x="46.25" y="163" font-size="9.5" font-weight="normal" fill="#000" transform="translate(46.25,163) skewX(0.1) translate(-46.25,-163)">1st</text>
<text x="84.80" y="163" font-size="9.5" font-weight="normal" fill="#000" transform="translate(84.80,163) skewX(0.1) translate(-84.80,-163)">2nd</text>
<text x="123.15" y="163" font-size="9.5" font-weight="normal" fill="#000" transform="translate(123.15,163) skewX(0.1) translate(-123.15,-163)">3rd</text>
<text x="93.30" y="178" font-size="9" font-weight="normal" fill="#000" transform="translate(93.30,178) skewX(0.1) translate(-93.30,-178)">Days post surgery</text>
<text transform="translate(25.20,131.25) rotate(-90)" font-size="9" font-weight="normal" fill="#000">Probability of Survival (%)</text>
<text x="225.65" y="83" font-size="8.5" font-weight="normal" fill="#000" transform="translate(225.65,83) skewX(0.1) translate(-225.65,-83)">B6 mice</text>
<text x="228.20" y="93" font-size="8.5" font-weight="normal" fill="#000" transform="translate(228.20,93) skewX(0.1) translate(-228.20,-93)">(n=15)</text>
<text x="287.00" y="13" font-size="13" font-weight="bold" fill="#111" transform="translate(287.00,13) skewX(0.1) translate(-287.00,-13)">b</text>
<text x="339.85" y="21" font-size="9" font-weight="normal" fill="#000" transform="translate(339.85,21) skewX(0.1) translate(-339.85,-21)">Postoperative body weight</text>
<text x="298.15" y="29" font-size="9" font-weight="normal" fill="#000" transform="translate(298.15,29) skewX(0.1) translate(-298.15,-29)">60</text>
<text x="298.15" y="49" font-size="9" font-weight="normal" fill="#000" transform="translate(298.15,49) skewX(0.1) translate(-298.15,-49)">55</text>
<text x="298.15" y="70" font-size="9" font-weight="normal" fill="#000" transform="translate(298.15,70) skewX(0.1) translate(-298.15,-70)">50</text>
<text x="298.15" y="90" font-size="9" font-weight="normal" fill="#000" transform="translate(298.15,90) skewX(0.1) translate(-298.15,-90)">45</text>
<text x="298.15" y="110" font-size="9" font-weight="normal" fill="#000" transform="translate(298.15,110) skewX(0.1) translate(-298.15,-110)">40</text>
<text x="297.65" y="130" font-size="9" font-weight="normal" fill="#000" transform="translate(297.65,130) skewX(0.1) translate(-297.65,-130)">35</text>
<text x="313.70" y="144" font-size="9" font-weight="normal" fill="#000" transform="translate(313.70,144) skewX(0.1) translate(-313.70,-144)">0</text>
<text x="351.78" y="144" font-size="9" font-weight="normal" fill="#000" transform="translate(351.78,144) skewX(0.1) translate(-351.78,-144)">4</text>
<text x="389.86" y="144" font-size="9" font-weight="normal" fill="#000" transform="translate(389.86,144) skewX(0.1) translate(-389.86,-144)">8</text>
<text x="424.94" y="144" font-size="9" font-weight="normal" fill="#000" transform="translate(424.94,144) skewX(0.1) translate(-424.94,-144)">12</text>
<text x="463.02" y="144" font-size="9" font-weight="normal" fill="#000" transform="translate(463.02,144) skewX(0.1) translate(-463.02,-144)">16</text>
<text x="309.00" y="163" font-size="9.5" font-weight="normal" fill="#000" transform="translate(309.00,163) skewX(0.1) translate(-309.00,-163)">1st</text>
<text x="348.00" y="163" font-size="9.5" font-weight="normal" fill="#000" transform="translate(348.00,163) skewX(0.1) translate(-348.00,-163)">2nd</text>
<text x="386.40" y="163" font-size="9.5" font-weight="normal" fill="#000" transform="translate(386.40,163) skewX(0.1) translate(-386.40,-163)">3rd</text>
<text x="356.80" y="178" font-size="9" font-weight="normal" fill="#000" transform="translate(356.80,178) skewX(0.1) translate(-356.80,-178)">Days post surgery</text>
<text transform="translate(286.70,95.80) rotate(-90)" font-size="9" font-weight="normal" fill="#000">weight (g)</text>
<text x="495.40" y="84" font-size="8.5" font-weight="normal" fill="#000" transform="translate(495.40,84) skewX(0.1) translate(-495.40,-84)">B6 mice</text>
<text x="497.90" y="93" font-size="8.5" font-weight="normal" fill="#000" transform="translate(497.90,93) skewX(0.1) translate(-497.90,-93)">(n=15)</text>
<text x="6.65" y="206" font-size="13" font-weight="bold" fill="#111" transform="translate(6.65,206) skewX(0.1) translate(-6.65,-206)">c</text>
<text x="78.50" y="214" font-size="9.6" font-weight="normal" fill="#000" transform="translate(78.50,214) skewX(0.1) translate(-78.50,-214)">Postoperative survival (Rat)</text>
<text x="36.00" y="237" font-size="9" font-weight="normal" fill="#000" transform="translate(36.00,237) skewX(0.1) translate(-36.00,-237)">100</text>
<text x="41.25" y="283" font-size="9" font-weight="normal" fill="#000" transform="translate(41.25,283) skewX(0.1) translate(-41.25,-283)">50</text>
<text x="46.75" y="329" font-size="9" font-weight="normal" fill="#000" transform="translate(46.75,329) skewX(0.1) translate(-46.75,-329)">0</text>
<text x="56.80" y="342" font-size="9" font-weight="normal" fill="#000" transform="translate(56.80,342) skewX(0.1) translate(-56.80,-342)">0</text>
<text x="100.24" y="342" font-size="9" font-weight="normal" fill="#000" transform="translate(100.24,342) skewX(0.1) translate(-100.24,-342)">2</text>
<text x="143.68" y="342" font-size="9" font-weight="normal" fill="#000" transform="translate(143.68,342) skewX(0.1) translate(-143.68,-342)">4</text>
<text x="187.12" y="342" font-size="9" font-weight="normal" fill="#000" transform="translate(187.12,342) skewX(0.1) translate(-187.12,-342)">6</text>
<text x="51.30" y="362" font-size="9.5" font-weight="normal" fill="#000" transform="translate(51.30,362) skewX(0.1) translate(-51.30,-362)">1st</text>
<text x="95.60" y="362" font-size="9.5" font-weight="normal" fill="#000" transform="translate(95.60,362) skewX(0.1) translate(-95.60,-362)">2nd</text>
<text x="139.60" y="362" font-size="9.5" font-weight="normal" fill="#000" transform="translate(139.60,362) skewX(0.1) translate(-139.60,-362)">3rd</text>
<text x="96.90" y="376" font-size="9" font-weight="normal" fill="#000" transform="translate(96.90,376) skewX(0.1) translate(-96.90,-376)">Days post surgery</text>
<text transform="translate(31.00,332.55) rotate(-90)" font-size="9.6" font-weight="normal" fill="#000">Probability of Survival (%)</text>
<text x="228.40" y="285" font-size="9.0" font-weight="normal" fill="#000" transform="translate(228.40,285) skewX(0.1) translate(-228.40,-285)">rats (n=5)</text>
<text x="289.00" y="206" font-size="13" font-weight="bold" fill="#111" transform="translate(289.00,206) skewX(0.1) translate(-289.00,-206)">d</text>
<text x="327.75" y="214" font-size="9.7" font-weight="normal" fill="#000" transform="translate(327.75,214) skewX(0.1) translate(-327.75,-214)">Postoperative body weight (Rat)</text>
<text x="293.00" y="226" font-size="9" font-weight="normal" fill="#000" transform="translate(293.00,226) skewX(0.1) translate(-293.00,-226)">280</text>
<text x="293.00" y="260" font-size="9" font-weight="normal" fill="#000" transform="translate(293.00,260) skewX(0.1) translate(-293.00,-260)">260</text>
<text x="293.00" y="294" font-size="9" font-weight="normal" fill="#000" transform="translate(293.00,294) skewX(0.1) translate(-293.00,-294)">240</text>
<text x="293.00" y="328" font-size="9" font-weight="normal" fill="#000" transform="translate(293.00,328) skewX(0.1) translate(-293.00,-328)">220</text>
<text x="313.40" y="341" font-size="9" font-weight="normal" fill="#000" transform="translate(313.40,341) skewX(0.1) translate(-313.40,-341)">0</text>
<text x="356.60" y="341" font-size="9" font-weight="normal" fill="#000" transform="translate(356.60,341) skewX(0.1) translate(-356.60,-341)">2</text>
<text x="399.80" y="341" font-size="9" font-weight="normal" fill="#000" transform="translate(399.80,341) skewX(0.1) translate(-399.80,-341)">4</text>
<text x="309.15" y="361" font-size="9.5" font-weight="normal" fill="#000" transform="translate(309.15,361) skewX(0.1) translate(-309.15,-361)">1st</text>
<text x="353.20" y="361" font-size="9.5" font-weight="normal" fill="#000" transform="translate(353.20,361) skewX(0.1) translate(-353.20,-361)">2nd</text>
<text x="397.50" y="361" font-size="9.5" font-weight="normal" fill="#000" transform="translate(397.50,361) skewX(0.1) translate(-397.50,-361)">3rd</text>
<text x="360.60" y="373" font-size="9.9" font-weight="normal" fill="#000" transform="translate(360.60,373) skewX(0.1) translate(-360.60,-373)">Days post surgery</text>
<text transform="translate(288.00,294.90) rotate(-90)" font-size="9.6" font-weight="normal" fill="#000">weight (g)</text>
<text x="511.05" y="280" font-size="9.3" font-weight="normal" fill="#000" transform="translate(511.05,280) skewX(0.1) translate(-511.05,-280)">rat (n=5)</text>
</svg>
</body></html>
